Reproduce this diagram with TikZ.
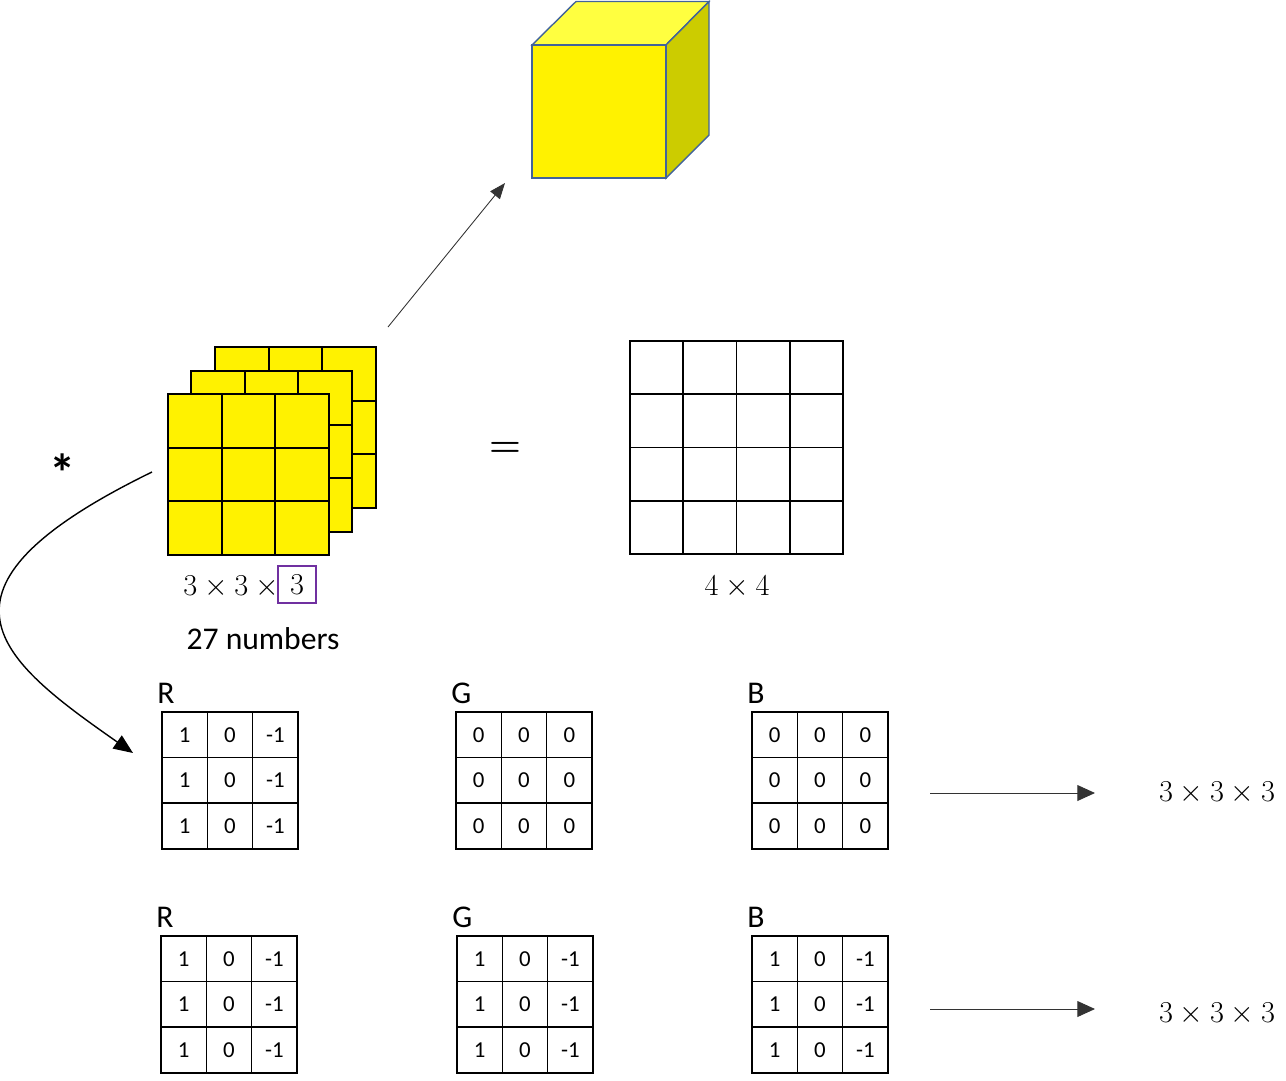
\documentclass[tikz,border=0pt]{standalone}
\usepackage{fontspec}
\setmainfont{Carlito}
\usetikzlibrary{arrows.meta}
\definecolor{cubeedge}{HTML}{41639B}
\definecolor{boxpurple}{HTML}{7030A0}
\definecolor{sideyellow}{HTML}{CCCC00}
\definecolor{topyellow}{HTML}{FFFF40}
\begin{document}
\begin{tikzpicture}[x=0.02cm, y=-0.02cm,
    layer/.style={fill=yellow, draw=black, line width=1.1pt},
    cell/.style={draw=black, line width=0.8pt, minimum size=0.91cm, inner sep=0pt, font=\fontsize{13}{15}\selectfont},
    chan/.style={font=\fontsize{18}{21}\selectfont, inner sep=0pt},
    dimtxt/.style={font=\fontsize{17}{20}\selectfont, inner sep=0pt},
    thinarrow/.style={black!80, line width=0.5pt, -{Triangle[length=9pt,width=7pt]}},
    bigarrow/.style={black!80, line width=0.5pt, -{Triangle[length=10pt,width=9pt]}}]

    % Frame
    \useasboundingbox (0,0) rectangle (1286,1080);

    % Output cube
    \draw[cubeedge, line width=0.8pt, fill=topyellow] (532,45) -- (576,1.5) -- (709,1.5) -- (666,45) -- cycle;
    \draw[cubeedge, line width=0.8pt, fill=sideyellow] (666,45) -- (709,1.5) -- (709,135) -- (666,178) -- cycle;
    \draw[cubeedge, line width=0.8pt, fill=yellow] (532,45) rectangle (666,178);

    % Filter stack, back to front
    \foreach \dx/\dy in {47/-47, 23/-23, 0/0} {
        \draw[layer] (168+\dx,394+\dy) rectangle ++(161,161);
        \foreach \k in {1,2} {
            \draw[line width=1.1pt] (168+\dx+53.67*\k,394+\dy) -- ++(0,161);
            \draw[line width=1.1pt] (168+\dx,394+\dy+53.67*\k) -- ++(161,0);
        }
    }

    % Arrow to the cube
    \coordinate (filtout) at (388,327);
    \coordinate (cubein) at (505,183);
    \draw[thinarrow] (filtout) -- (cubein);

    % Filter size
    \node[dimtxt, anchor=east] (fdim) at (279,587) {$3\times3\mskip\medmuskip\times$};
    \node[dimtxt, draw=boxpurple, line width=0.6pt, minimum width=0.76cm, minimum height=0.74cm] (fchan) at (297,584.5) {$3$};
    \node[chan] (fnum) at (263,639) {27 numbers};

    % Convolution and equals signs
    \node[font=\fontsize{30}{34}\selectfont\bfseries, inner sep=0pt] (conv) at (63,473) {*};
    \node[font=\fontsize{20}{24}\selectfont\boldmath, inner sep=0pt] (eq) at (505,449) {$=$};

    % Output 4x4
    \draw[line width=1pt] (630,341) rectangle (843,554);
    \foreach \k in {1,2,3} {
        \draw[line width=1pt] (630+53.25*\k,341) -- ++(0,213);
        \draw[line width=1pt] (630,341+53.25*\k) -- ++(213,0);
    }
    \node[dimtxt] (odim) at (737,587) {$4\times4$};

    % Channel matrices
    \foreach \mx/\my/\ch/\a/\b/\c in {162/712/R/1/0/-1, 456/712/G/0/0/0, 752/712/B/0/0/0,
                                      161/936/R/1/0/-1, 457/936/G/1/0/-1, 752/936/B/1/0/-1} {
        \node[chan, anchor=base west] (lab\ch\my) at (\mx-5,\my-9) {\ch};
        \foreach \col/\v in {0/\a, 1/\b, 2/\c}
            \foreach \row in {0,1,2}
                \node[cell] (m\ch\my-\col\row) at (\mx+22.7+45.3*\col,\my+22.8+45.5*\row) {\v};
        \draw[line width=1.2pt] (\mx,\my) rectangle ++(136,137);
    }

    % Curved arrow to the R channel
    \coordinate (curvestart) at (152,472);
    \coordinate (curveend) at (133,753);
    \draw[black, line width=0.8pt, -{Triangle[length=11pt,width=9pt]}] (curvestart) .. controls (-90,590) and (0,660) .. (curveend);

    % Filter volumes
    \coordinate (aonestart) at (930,793);
    \coordinate (aoneend) at (1095,793);
    \draw[bigarrow] (aonestart) -- (aoneend);
    \node[dimtxt] (volone) at (1217,793) {$3\times3\times3$};
    \coordinate (atwostart) at (930,1009);
    \coordinate (atwoend) at (1095,1009);
    \draw[bigarrow] (atwostart) -- (atwoend);
    \node[dimtxt] (voltwo) at (1217,1014) {$3\times3\times3$};
\end{tikzpicture}
\end{document}
